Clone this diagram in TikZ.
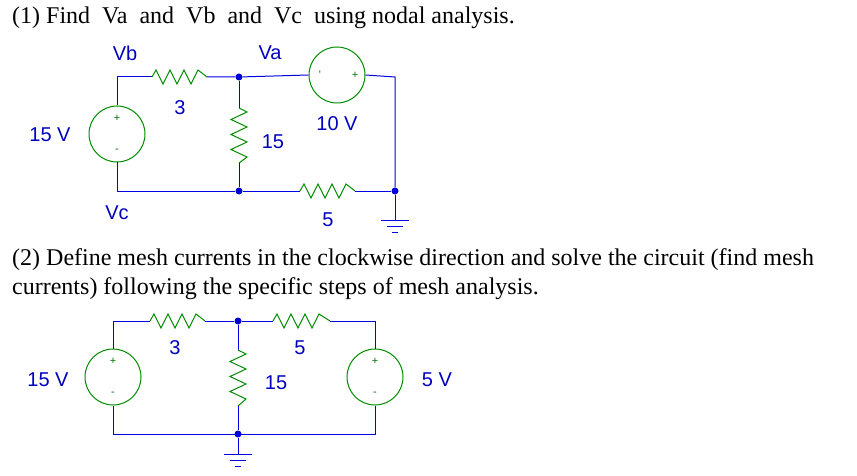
\documentclass[tikz,border=0pt]{standalone}
\usepackage{fontspec}
\setmainfont{Liberation Serif}
\newfontfamily\lab{Liberation Sans}
\begin{document}
\begin{tikzpicture}[x=1pt,y=-1pt,
 wire/.style={blue!90!black,line width=1pt},
 comp/.style={green!55!black,line width=1pt},
 src/.style={circle,draw=green!55!black,line width=1pt,minimum size=56pt,inner sep=0pt},
 dot/.style={circle,fill=blue!85!black,inner sep=0pt,minimum size=7pt},
 lb/.style={font=\lab\fontsize{20}{20}\selectfont,text=blue!75!black,inner sep=0pt},
 pm/.style={font=\lab\fontsize{11}{11}\selectfont,text=green!45!black,inner sep=0pt},
 txt/.style={font=\fontsize{24}{26}\selectfont,anchor=west,inner sep=0pt}]
\useasboundingbox (0,0) rectangle (857,476);
\def\hres#1#2#3{\draw[comp] (#1,#3) -- ++(4,-7) -- ++(7,14) -- ++(7,-14) -- ++(7,14) -- ++(7,-14) -- ++(7,14) -- ++(7,-14) -- (#2,#3);}
\def\vres#1#2#3{\draw[comp] (#1,#2) -- ++(8,4) -- ++(-16,7.5) -- ++(16,7.5) -- ++(-16,7.5) -- ++(16,7.5) -- ++(-16,7.5) -- ++(16,7.5) -- (#1,#3);}
% text
\node[txt] (t1) at (12,18) {(1) Find\ \ Va\ \ and\ \ Vb\ \ and\ \ Vc\ \ using nodal analysis.};
\node[txt] (t2) at (12,260) {(2) Define mesh currents in the clockwise direction and solve the circuit (find mesh};
\node[txt] (t3) at (12,289) {currents) following the specific steps of mesh analysis.};
% circuit 1
\node[src] (s1) at (117,134) {};
\node[pm] (s1p) at (117,118) {+};
\node[pm] (s1m) at (117,151) {-};
\node[src] (s2) at (337,75) {};
\node[pm] (s2m) at (320,75) {'};
\node[pm] (s2p) at (355,75) {+};
\node[dot] (na) at (239,77) {};
\node[dot] (nc) at (239,191) {};
\node[dot] (ng) at (395,191) {};
\coordinate (tl) at (117,77);
\coordinate (bl) at (117,191);
\coordinate (tr) at (395,77);
\coordinate (g1) at (395,220);
\draw[wire] (s1.north) -- (tl) -- (152,77);
\hres{152}{207}{77}
\draw[wire] (207,77) -- (na) -- (s2.west);
\draw[wire] (s2.east) -- (tr) -- (ng);
\draw[wire] (na) -- (239,108);
\vres{239}{108}{163}
\draw[wire] (239,163) -- (nc);
\draw[wire] (s1.south) -- (bl) -- (nc) -- (300,191);
\hres{300}{355}{191}
\draw[wire] (355,191) -- (ng) -- (g1);
\draw[wire] (381,220) -- (409,220) (387,226) -- (403,226) (392,232) -- (398,232);
\node[lb] (lvb) at (125,53) {Vb};
\node[lb] (lva) at (270,53) {Va};
\node[lb] (l3) at (180,108) {3};
\node[lb] (l15v) at (50,135) {15 V};
\node[lb] (l15) at (273,142) {15};
\node[lb] (l10) at (337,124) {10 V};
\node[lb] (lvc) at (117,213) {Vc};
\node[lb] (l5) at (328,220) {5};
% circuit 2
\node[src] (u1) at (113,377) {};
\node[pm] (u1p) at (113,361) {+};
\node[pm] (u1m) at (113,394) {-};
\node[src] (u2) at (375,377) {};
\node[pm] (u2p) at (375,361) {+};
\node[pm] (u2m) at (375,394) {-};
\node[dot] (m1) at (238,321) {};
\node[dot] (m2) at (238,434) {};
\coordinate (a1) at (113,321);
\coordinate (a2) at (375,321);
\coordinate (a3) at (113,434);
\coordinate (a4) at (375,434);
\coordinate (g2) at (238,454);
\draw[wire] (u1.north) -- (a1) -- (150,321);
\hres{150}{205}{321}
\draw[wire] (205,321) -- (m1) -- (273,321);
\hres{273}{330}{321}
\draw[wire] (330,321) -- (a2) -- (u2.north);
\draw[wire] (m1) -- (238,350);
\vres{238}{350}{406}
\draw[wire] (238,406) -- (m2);
\draw[wire] (u1.south) -- (a3) -- (a4) -- (u2.south);
\draw[wire] (m2) -- (g2);
\draw[wire] (224,454) -- (252,454) (230,460) -- (246,460) (235,466) -- (241,466);
\node[lb] (k3) at (175,348) {3};
\node[lb] (k5) at (300,348) {5};
\node[lb] (k15v) at (48,380) {15 V};
\node[lb] (k15) at (276,383) {15};
\node[lb] (k5v) at (437,380) {5 V};
\end{tikzpicture}
\end{document}
